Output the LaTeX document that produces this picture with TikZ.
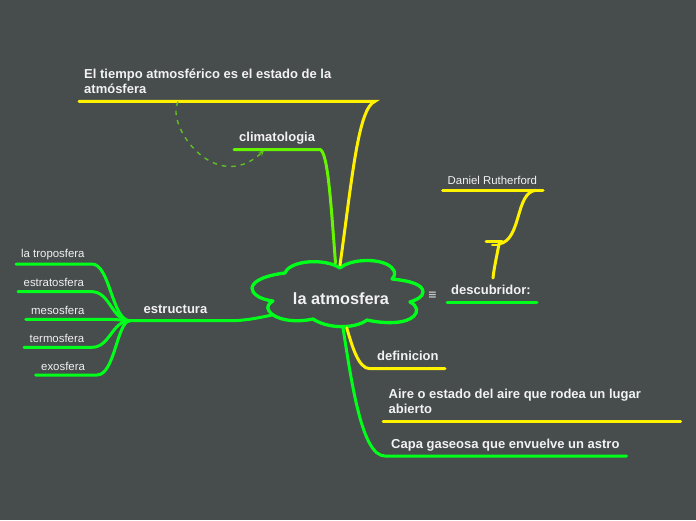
\documentclass[tikz,border=0pt]{standalone}
\usepackage{fontspec}
\setmainfont{Liberation Sans}
\newfontfamily\symfont{DejaVu Sans}
\usetikzlibrary{arrows.meta}
\definecolor{bgcol}{HTML}{474C4C}
\definecolor{lineg}{HTML}{00FF1A}
\definecolor{liney}{HTML}{FFF200}
\definecolor{linel}{HTML}{66F500}
\definecolor{dashg}{HTML}{5FC020}
\definecolor{textw}{HTML}{F2F2F2}
\tikzset{>=stealth}
\tikzset{
  glin/.style={line width=3pt,lineg,line cap=round},
  ylin/.style={line width=3pt,liney,line cap=round},
  llin/.style={line width=3pt,linel,line cap=round},
  bold/.style={textw,font=\fontsize{13}{15.5}\selectfont\bfseries,align=left,inner sep=0pt},
  thin/.style={textw,font=\fontsize{11.4}{13}\selectfont,inner sep=0pt}
}
\begin{document}
\begin{tikzpicture}[x=1pt,y=-1pt]
  \fill[bgcol] (0,0) rectangle (696,520);
  \useasboundingbox (0,0) rectangle (696,520);

  % cloud
  \coordinate (hubc) at (130,320.7);
  \draw[glin,line width=3.3pt,line join=round] (340,268)
     .. controls (352,258) and (383,258) .. (392,268) .. controls (396,272) and (395,276) .. (392,279)
     .. controls (412,281) and (423,285) .. (423,292) .. controls (423,297) and (416,300) .. (410,302)
     .. controls (418,306) and (418,312) .. (414,316) .. controls (406,324) and (385,324) .. (367,320)
     .. controls (355,329) and (328,329) .. (313,319)
     .. controls (295,323) and (275,320) .. (269,311) .. controls (266,307) and (269,303) .. (273,301)
     .. controls (258,299) and (252,293) .. (252,288) .. controls (253,280) and (268,275) .. (285,273)
     .. controls (290,260) and (325,258) .. (340,268) -- cycle;
  \node[bold,font=\fontsize{16.3}{18}\selectfont\bfseries] (atmos) at (341,298.5) {la atmosfera};
  \node[textw,opacity=.75,inner sep=0pt,font=\symfont\bfseries\fontsize{11}{13}\selectfont] (menu) at (432.5,295) {≡};

  % top
  \coordinate (climaL) at (234,149.5);
  \coordinate (climaR) at (320,149.5);
  \coordinate (tiempoL) at (79,101.3);
  \coordinate (tiempoR) at (375,101.3);
  \draw[llin] (climaL)--(climaR) .. controls (328,152) and (331,205) .. (335.5,263);
  \draw[ylin] (tiempoL)--(tiempoR) .. controls (358,108) and (352,180) .. (340,265);
  \node[bold,anchor=west] (clima) at (239,138) {climatologia};
  \node[bold,anchor=west] (tiempo) at (84,81.5) {El tiempo atmosférico es el estado de la\\atmósfera};
  \draw[dashg,line width=1.4pt,dash pattern=on 4.5pt off 5pt,->] (178,101.5) .. controls (165,125) and (215,196) .. (264,150.5);

  % descubridor
  \coordinate (descL) at (447,302);
  \coordinate (descR) at (537,302);
  \coordinate (rutherL) at (442.5,190.3);
  \coordinate (rutherR) at (543,190.3);
  \draw[glin] (descL)--(descR);
  \draw[ylin] (rutherL)--(rutherR);
  \draw[ylin] (536,190.3) .. controls (515,192) and (522,240) .. (499,244) .. controls (497,255) and (494,268) .. (493,278);
  \draw[ylin] (486,241.3)--(502,241.3);
  \draw[ylin,line width=1.6pt] (492,245)--(499,245);
  \node[bold,anchor=west] (desc) at (451,289.5) {descubridor:};
  \node[thin,anchor=west] (ruther) at (447.5,180.5) {Daniel Rutherford};

  % estructura
  \coordinate (estrR) at (230,320.7);
  \draw[glin] (hubc)--(estrR) .. controls (245,320.7) and (258,318) .. (272,315);
  \node[bold,anchor=west] (estr) at (143.5,309.5) {estructura};
  \foreach \nam/\lx/\rx/\yy/\tx/\tt in {tropo/16/92/264/21/la troposfera,
      strato/18/92/291.7/23.5/estratosfera,
      meso/25.7/103/319.3/31/mesosfera,
      termo/24/92/347.3/29.5/termosfera,
      exo/35.7/97/375/41/exosfera}{
    \draw[glin] (\lx,\yy)--(\rx,\yy) .. controls (\rx+18,\yy) and (\rx+20,320.7) .. (hubc);
    \node[thin,anchor=west] (\nam) at (\tx,\yy-9) {\tt};
  }

  % abajo
  \coordinate (defR) at (445,368.7);
  \coordinate (defL) at (370,368.7);
  \coordinate (aireL) at (383,421);
  \coordinate (aireR) at (680.7,421);
  \coordinate (capaL) at (385,456);
  \coordinate (capaR) at (626.7,456);
  \draw[ylin] (346.7,328) .. controls (352,345) and (358,368.7) .. (defL)--(defR);
  \draw[ylin] (aireL)--(aireR);
  \draw[glin] (343,328) .. controls (352,385) and (362,456) .. (capaL)--(capaR);
  \node[bold,anchor=west] (def) at (377,355.5) {definicion};
  \node[bold,anchor=west] (aire) at (388.5,401.5) {Aire o estado del aire que rodea un lugar\\abierto};
  \node[bold,anchor=west] (capa) at (391,445) {Capa gaseosa que envuelve un astro};
\end{tikzpicture}
\end{document}
